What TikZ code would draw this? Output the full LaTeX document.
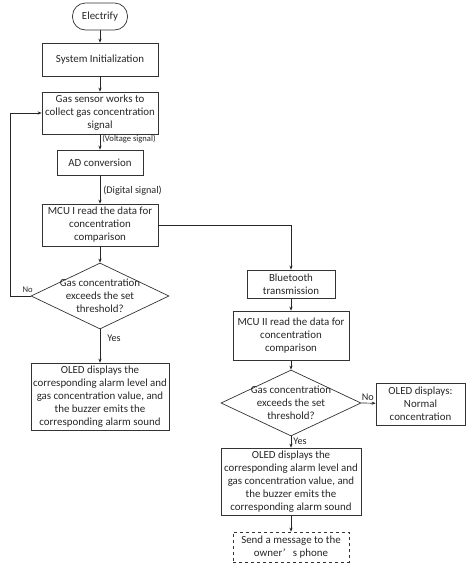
\documentclass[tikz,border=0pt]{standalone}
\usepackage{fontspec}
\setmainfont{Carlito}
\usetikzlibrary{shapes.geometric,arrows.meta}
\begin{document}
\begin{tikzpicture}[x=1pt,y=-1pt,
  every node/.style={font=\fontsize{10.9}{13}\selectfont, align=center, text=black!85},
  box/.style={draw=black!80, line width=0.7pt, inner sep=1pt},
  dia/.style={draw=black!80, line width=0.7pt, shape=diamond, inner sep=0pt},
  flow/.style={draw=black!85, line width=0.7pt, -{Stealth[length=4pt,width=3.2pt]}},
  small/.style={font=\fontsize{8.6}{10}\selectfont},
  lbl/.style={font=\fontsize{10.2}{12}\selectfont}
]
\useasboundingbox (0,0) rectangle (474,566);
\node[box, rounded corners=13pt, minimum width=55pt, minimum height=27pt] (start) at (100,16.5) {Electrify};
\node[box, minimum width=116pt, minimum height=33pt] (init) at (100,59.5) {System Initialization};
\node[box, minimum width=116pt, minimum height=42pt] (gas) at (100,113) {Gas sensor works to\\collect gas concentration\\signal};
\node[box, minimum width=86pt, minimum height=25pt] (ad) at (100,162.5) {AD conversion};
\node[box, minimum width=116pt, minimum height=42pt] (mcu1) at (100,225) {MCU I read the data for\\concentration\\comparison};
\node[dia, minimum width=138pt, minimum height=66pt] (d1) at (100,296) {};
\node at (100,296) {Gas concentration\\exceeds the set\\threshold?};
\node[box, minimum width=138pt, minimum height=67pt] (oled1) at (100,396.5) {OLED displays the\\corresponding alarm level and\\gas concentration value, and\\the buzzer emits the\\corresponding alarm sound};

\node[box, minimum width=88pt, minimum height=28pt] (bt) at (291,284) {Bluetooth\\transmission};
\node[box, minimum width=116pt, minimum height=49pt] (mcu2) at (291,335.5) {MCU II read the data for\\concentration\\comparison};
\node[dia, minimum width=140pt, minimum height=66pt] (d2) at (291,403) {};
\node at (291,403) {Gas concentration\\exceeds the set\\threshold?};
\node[box, minimum width=89pt, minimum height=42pt] (norm) at (420.5,404) {OLED displays:\\Normal\\concentration};
\node[box, minimum width=140pt, minimum height=67pt] (oled2) at (291,481.5) {OLED displays the\\corresponding alarm level and\\gas concentration value, and\\the buzzer emits the\\corresponding alarm sound};
\node[box, dashed, minimum width=116pt, minimum height=30pt] (msg) at (291,547) {Send a message to the\\owner’\ \ \ s phone};

\draw[flow] (start) -- (init);
\draw[flow] (init) -- (gas);
\draw[flow] (gas) -- node[small, right, pos=0.3, inner sep=2pt] {(Voltage signal)} (ad);
\draw[flow] (ad) -- node[lbl, right, pos=0.55, inner sep=3pt] {(Digital signal)} (mcu1);
\draw[flow] (mcu1) -- (d1);
\draw[flow] (d1) -- node[lbl, right, pos=0.26, inner sep=7pt] {Yes} (oled1);
\coordinate (lp) at (10,296);
\draw[flow] (d1.west) -- node[small, above, pos=0.15, inner sep=3pt] {No} (lp) |- (gas.west);
\draw[flow] (mcu1.east) -| (bt.north);
\draw[flow] (bt) -- (mcu2);
\draw[flow] (mcu2) -- (d2);
\draw[flow] (d2) -- node[lbl, right, pos=0.4, inner sep=2pt] {Yes} (oled2);
\draw[flow] (d2.east) -- node[lbl, above, pos=0.45, inner sep=2pt] {No} (norm);
\draw[flow] (oled2) -- (msg);
\end{tikzpicture}
\end{document}
